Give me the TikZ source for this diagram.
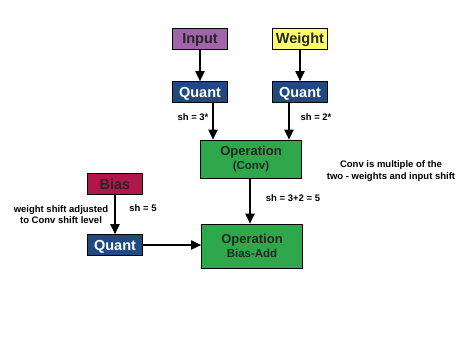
\documentclass[tikz,border=0pt]{standalone}
\usepackage{fontspec}
\setmainfont{Liberation Sans}
\usepackage{xcolor}
\usetikzlibrary{arrows.meta, positioning, calc}
\definecolor{inpurple}{RGB}{160,100,170}
\definecolor{wtyellow}{RGB}{255,255,110}
\definecolor{quantblue}{RGB}{31,74,128}
\definecolor{opgreen}{RGB}{46,168,74}
\definecolor{biasred}{RGB}{176,24,76}

\begin{document}
\begin{tikzpicture}[
  x=1pt, y=-1pt,
  srcbox/.style={rectangle, draw=black, line width=0.6pt,
                 minimum width=55pt, minimum height=21pt, inner sep=0pt,
                 text height=10.5pt, text depth=0pt,
                 font=\fontsize{14.5}{15}\selectfont\bfseries, text=black!85},
  quant/.style={srcbox, fill=quantblue, text=white},
  opbox/.style={rectangle, draw=black, line width=0.6pt, fill=opgreen,
                minimum width=101pt, inner sep=0pt, align=center,
                font=\fontsize{13}{15}\selectfont\bfseries, text=black!85},
  note/.style={font=\fontsize{9.5}{11.5}\selectfont\bfseries, align=center},
  arr/.style={-{Triangle[length=10pt,width=9pt]}, line width=1.8pt, black},
]
\useasboundingbox[fill=white] (0,0) rectangle (474,338);

% Sources
\node[srcbox, fill=inpurple] (input) at (200,38.5) {Input};
\node[srcbox, fill=wtyellow] (weight) at (300,38.5) {Weight};
\node[srcbox, fill=biasred] (bias) at (115,184) {Bias};

% Quantisers
\node[quant] (quantin) at (200,92) {Quant};
\node[quant] (quantwt) at (300,92) {Quant};
\node[quant] (quantbias) at (115,245) {Quant};

% Operations
\node[opbox, minimum height=38pt] (conv) at (251,159) {Operation\\[-1pt]{\fontsize{11.5}{12}\selectfont(Conv)}};
\node[opbox, minimum height=44pt] (biasadd) at (252,246) {Operation\\[-1pt]{\fontsize{11.5}{12}\selectfont Bias-Add}};

% Notes
\node[note] (shin) at (193,117) {sh = 3*};
\node[note] (shwt) at (316,117) {sh = 2*};
\node[note] (shconv) at (293,198) {sh = 3+2 = 5};
\node[note] (convnote) at (391,171) {Conv is multiple of the\\two - weights and input shift};
\node[note] (shbias) at (143,208) {sh = 5};
\node[note] (biasnote) at (61,214.5) {weight shift adjusted\\to Conv shift level};

% Flows
\draw[arr] (input) -- (quantin);
\draw[arr] (weight) -- (quantwt);
\draw[arr] ([xshift=13pt]quantin.south) -- ([xshift=13pt]quantin.south |- conv.north);
\draw[arr] ([xshift=-11pt]quantwt.south) -- ([xshift=-11pt]quantwt.south |- conv.north);
\draw[arr] ([xshift=-1pt]conv.south) -- ([xshift=-1pt]conv.south |- biasadd.north);
\draw[arr] (bias) -- (quantbias);
\draw[arr] (quantbias.east) -- (quantbias.east -| biasadd.west);

\end{tikzpicture}
\end{document}
